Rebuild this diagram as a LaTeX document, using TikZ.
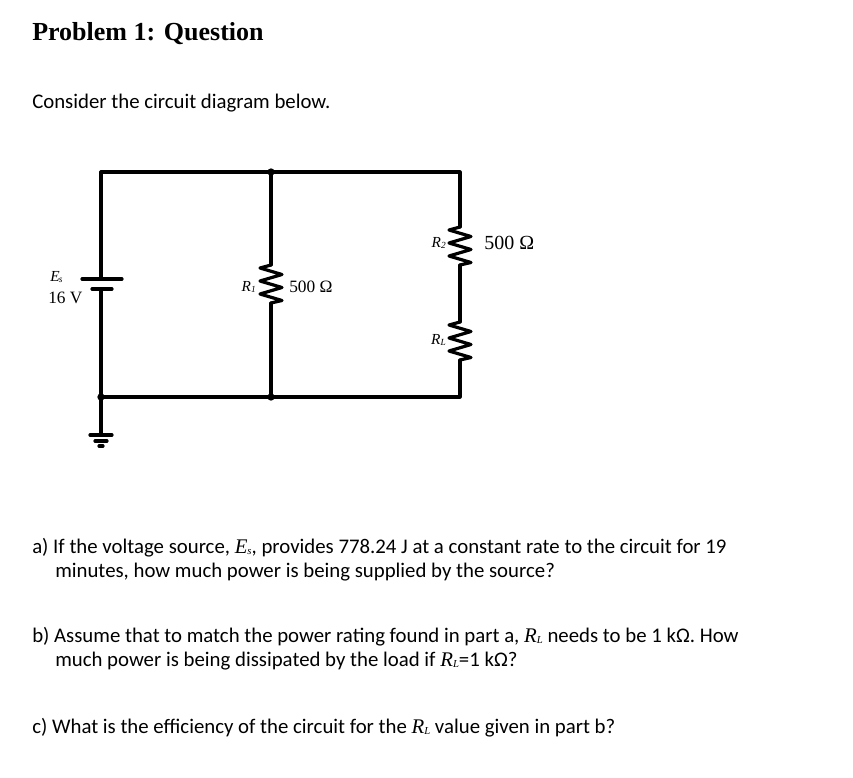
\documentclass[tikz,border=0pt]{standalone}
\usepackage{fontspec}
\setmainfont{Carlito}
\newfontfamily\serif{Liberation Serif}
\begin{document}
\begin{tikzpicture}[x=0.75pt,y=-0.75pt,
  wire/.style={line width=2.4pt,line cap=round,line join=round},
  txt/.style={anchor=base west,inner sep=0pt,font=\fontsize{15.6}{18}\selectfont},
  lbl/.style={inner sep=0pt,font=\serif\fontsize{11.5}{13}\selectfont},
  dot/.style={circle,fill,inner sep=0pt,minimum size=5.5pt},
  zz/.pic={\draw[wire] (0,0) -- (-11,3) -- (11,9.5) -- (-11,16) -- (11,22.5) -- (-11,29) -- (11,35.5) -- (0,38);}]
\useasboundingbox (0,0) rectangle (853,778);
\node[anchor=base west,inner sep=0pt,font=\serif\bfseries\fontsize{19.5}{22}\selectfont] (title) at (32,40) {Problem 1: Question};
\node[txt] (intro) at (32,108) {Consider the circuit diagram below.};
% coordinates
\coordinate (tl) at (101,172); \coordinate (tm) at (271,172); \coordinate (tr) at (460,172);
\coordinate (bl) at (101,397); \coordinate (bm) at (271,397); \coordinate (br) at (460,397);
\coordinate (b1) at (101,279); \coordinate (b2) at (101,289);
\coordinate (r1a) at (271,265); \coordinate (r1b) at (271,303);
\coordinate (r2a) at (460,227); \coordinate (r2b) at (460,265);
\coordinate (rla) at (460,322); \coordinate (rlb) at (460,360);
\coordinate (g) at (101,435);
\draw[wire] (b1) -- (tl) -- (tr) -- (r2a);
\draw[wire] (tm) -- (r1a); \draw[wire] (r1b) -- (bm);
\draw[wire] (r2b) -- (rla); \draw[wire] (rlb) -- (br) -- (bl) -- (b2);
\draw[wire] (bl) -- (g);
\draw[wire] (82,279) -- (122,279);
\draw[wire] (92,289) -- (112,289);
\draw[wire] (90,435) -- (112,435);
\draw[wire] (95,441) -- (107,441);
\draw[wire] (99,446) -- (103,446);
\pic at (r1a) {zz}; \pic at (r2a) {zz}; \pic at (rla) {zz};
\node[dot] (d1) at (tm) {}; \node[dot] (d2) at (bm) {}; \node[dot] (d3) at (bl) {};
\node[lbl,anchor=west] (es) at (50,277) {\itshape E\kern-0.5pt\raisebox{-1pt}{\scriptsize s}};
\node[lbl,anchor=west,font=\serif\fontsize{13}{14}\selectfont] (v) at (48,298) {16 V};
\node[lbl,anchor=east] (r1l) at (256,287) {\itshape R\raisebox{-1pt}{\scriptsize 1}};
\node[lbl,anchor=west,font=\serif\fontsize{13}{14}\selectfont] (r1v) at (289,287) {500 Ω};
\node[lbl,anchor=east] (r2l) at (446,243) {\itshape R\raisebox{-1pt}{\scriptsize 2}};
\node[lbl,anchor=west,font=\serif\fontsize{15}{16}\selectfont] (r2v) at (484,243) {500 Ω};
\node[lbl,anchor=east] (rll) at (446,340) {\itshape R\raisebox{-1pt}{\scriptsize L}};
% questions
\node[txt] (qa1) at (32,553) {a) If the voltage source, {\serif\itshape E\raisebox{-1pt}{\footnotesize s}}, provides 778.24 J at a constant rate to the circuit for 19};
\node[txt] (qa2) at (55,577) {minutes, how much power is being supplied by the source?};
\node[txt] (qb1) at (32,642) {b) Assume that to match the power rating found in part a, {\serif\itshape R\raisebox{-1pt}{\footnotesize L}} needs to be 1 kΩ. How};
\node[txt] (qb2) at (55,666) {much power is being dissipated by the load if {\serif\itshape R\raisebox{-1pt}{\footnotesize L}}=1 kΩ?};
\node[txt] (qc) at (32,733) {c) What is the efficiency of the circuit for the {\serif\itshape R\raisebox{-1pt}{\footnotesize L}} value given in part b?};
\end{tikzpicture}
\end{document}
